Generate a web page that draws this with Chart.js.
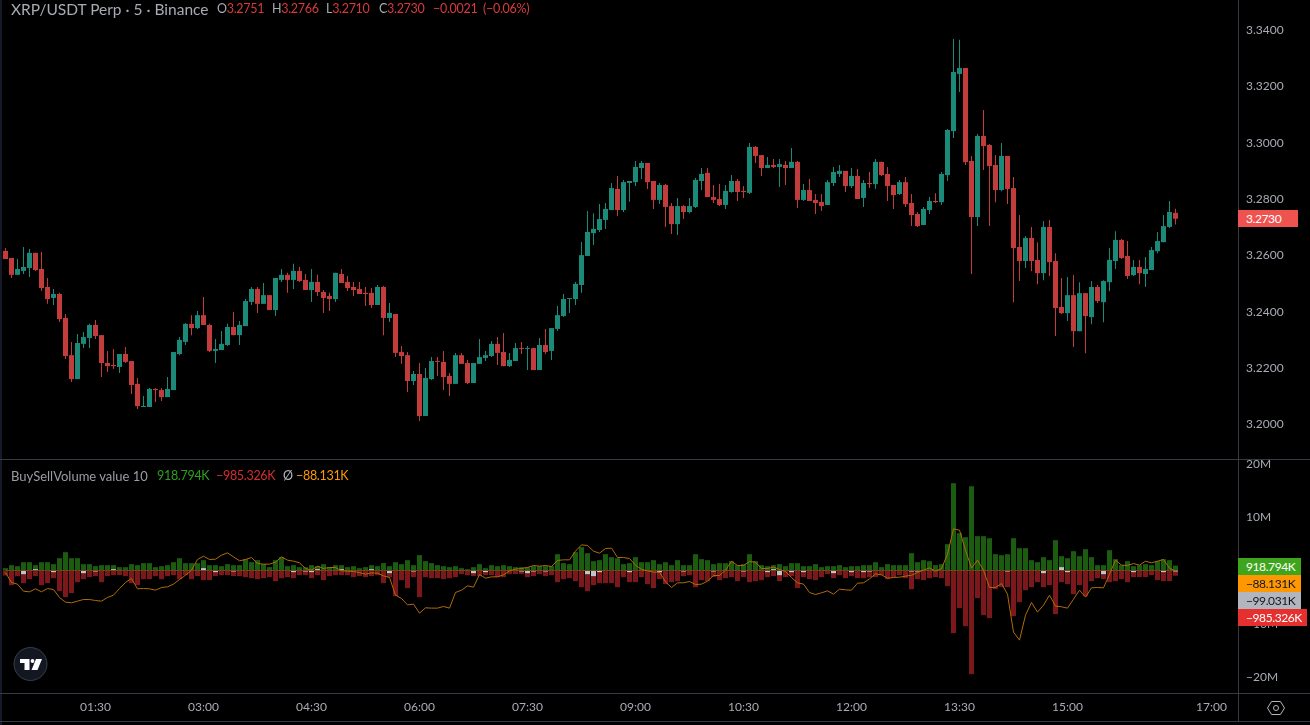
<!DOCTYPE html>
<html>
<head>
<meta charset="utf-8">
<title>XRP/USDT Perp</title>
<script src="https://cdn.jsdelivr.net/npm/chart.js@4"></script>
<style>
  html, body { margin: 0; background: #000; overflow: hidden; }
  body { width: 1310px; height: 725px; position: relative; font-family: Lato, sans-serif; }
  canvas { position: absolute; left: 0; }
  #price-chart { top: 0; }
  #volume-chart { top: 460px; }
  .rule { position: absolute; background: #363a45; }
  .txt { position: absolute; white-space: nowrap; line-height: 16px; font-size: 12.5px; letter-spacing: -0.3px; }
  .tag { position: absolute; left: 1238px; height: 17px; line-height: 17px; padding-left: 8px; font-size: 12px; letter-spacing: -0.4px; box-sizing: border-box; }
</style>
</head>
<body>
<canvas id="price-chart" width="1310" height="459"></canvas>
<canvas id="volume-chart" width="1310" height="265"></canvas>

<div class="rule" style="left:0;top:0;width:2px;height:725px;background:#161a28"></div>
<div class="rule" style="left:0;top:459px;width:1310px;height:1px"></div>
<div class="rule" style="left:0;top:693px;width:1310px;height:1px"></div>
<div class="rule" style="left:0;top:721px;width:1310px;height:1px"></div>
<div class="rule" style="left:1238px;top:0;width:1px;height:721px"></div>

<div class="txt" style="left:11px;top:1px;font-size:15.5px;letter-spacing:0;color:#a8abb4">XRP/USDT Perp · 5 · Binance</div>
<div class="txt" style="left:217px;top:1px;color:#a8abb4">O<span style="color:#d83a3a">3.2751</span></div>
<div class="txt" style="left:272px;top:1px;color:#a8abb4">H<span style="color:#d83a3a">3.2766</span></div>
<div class="txt" style="left:326px;top:1px;color:#a8abb4">L<span style="color:#d83a3a">3.2710</span></div>
<div class="txt" style="left:379px;top:1px;color:#a8abb4">C<span style="color:#d83a3a">3.2730</span></div>
<div class="txt" style="left:433px;top:1px;color:#d83a3a">−0.0021</div>
<div class="txt" style="left:483px;top:1px;color:#d83a3a">(−0.06%)</div>

<div class="txt" style="left:11px;top:468px;font-size:13px;letter-spacing:0;color:#9a9da6">BuySellVolume value 10</div>
<div class="txt" style="left:157px;top:468px;color:#2f9e1f">918.794K</div>
<div class="txt" style="left:216px;top:468px;color:#d32f2f">−985.326K</div>
<div class="txt" style="left:283px;top:468px;color:#b2b5be">Ø</div>
<div class="txt" style="left:296px;top:468px;color:#ff9800">−88.131K</div>

<div class="tag" style="top:210px;width:60px;background:#ef5350;color:#fff">3.2730</div>
<div class="tag" style="top:558px;width:63px;background:#3fa51c;color:#fff">918.794K</div>
<div class="tag" style="top:575px;width:63px;background:#ff9800;color:#131722">−88.131K</div>
<div class="tag" style="top:592px;width:63px;background:#b2b5be;color:#131722">−99.031K</div>
<div class="tag" style="top:609px;width:69px;background:#e53030;color:#fff">−985.326K</div>

<svg style="position:absolute;left:12px;top:646px" width="38" height="38">
  <circle cx="18.5" cy="18" r="16.5" fill="#131722" stroke="#3a3e48"/>
  <path d="M8 13h9.5v11h-5v-7H8z M24 13h6l-4.5 11h-6z" fill="#fff"/>
  <circle cx="20.5" cy="15" r="1.9" fill="#fff"/>
</svg>
<svg style="position:absolute;left:1266px;top:698px" width="20" height="20">
  <polygon points="1.5,10 5.5,3.5 14.5,3.5 18.5,10 14.5,16.5 5.5,16.5" fill="none" stroke="#b2b5be"/>
  <circle cx="10" cy="10" r="2.5" fill="none" stroke="#b2b5be"/>
</svg>

<script>
'use strict'

//candle values
let opens = [
  3.2616,3.2591,3.2531,3.2545,3.2555,3.2609,3.2552,3.2488,3.2449,3.2463,
  3.2378,3.2246,3.2161,3.2286,3.2307,3.2353,3.2317,3.2218,3.2211,3.2204,
  3.2250,3.2225,3.2144,3.2062,3.2062,3.2126,3.2122,3.2097,3.2122,3.2250,
  3.2293,3.2357,3.2342,3.2388,3.2353,3.2261,3.2264,3.2282,3.2346,3.2317,
  3.2349,3.2435,3.2481,3.2428,3.2459,3.2406,3.2513,3.2531,3.2513,3.2545,
  3.2513,3.2477,3.2506,3.2470,3.2456,3.2445,3.2534,3.2506,3.2488,3.2481,
  3.2467,3.2467,3.2424,3.2488,3.2378,3.2392,3.2257,3.2246,3.2154,3.2179,
  3.2030,3.2161,3.2225,3.2222,3.2172,3.2144,3.2246,3.2218,3.2147,3.2215,
  3.2236,3.2243,3.2286,3.2257,3.2207,3.2225,3.2271,3.2268,3.2271,3.2193,
  3.2282,3.2261,3.2339,3.2385,3.2445,3.2445,3.2495,3.2598,3.2679,3.2690,
  3.2726,3.2761,3.2836,3.2761,3.2857,3.2860,3.2910,3.2928,3.2864,3.2797,
  3.2850,3.2775,3.2711,3.2775,3.2754,3.2772,3.2864,3.2893,3.2807,3.2800,
  3.2779,3.2825,3.2864,3.2829,3.2822,3.2985,3.2956,3.2910,3.2921,3.2914,
  3.2921,3.2910,3.2932,3.2797,3.2832,3.2797,3.2790,3.2779,3.2857,3.2889,
  3.2900,3.2846,3.2882,3.2804,3.2857,3.2853,3.2932,3.2889,3.2850,3.2818,
  3.2860,3.2786,3.2747,3.2708,3.2761,3.2793,3.2789,3.2885,3.3041,3.3244,
  3.3265,3.2935,3.2736,3.3024,3.2992,3.2921,3.2832,3.2953,3.2839,3.2630,
  3.2580,3.2662,3.2584,3.2537,3.2701,3.2580,3.2417,3.2395,3.2459,3.2331,
  3.2466,3.2381,3.2488,3.2434,3.2505,3.2580,3.2655,3.2598,3.2530,3.2559,
  3.2534,3.2548,3.2615,3.2647,3.2701,3.2751
];
let closes = [
  3.2587,3.2531,3.2552,3.2559,3.2609,3.2548,3.2484,3.2445,3.2463,3.2374,
  3.2243,3.2161,3.2289,3.2310,3.2353,3.2314,3.2218,3.2207,3.2207,3.2250,
  3.2222,3.2140,3.2065,3.2065,3.2126,3.2122,3.2097,3.2126,3.2257,3.2300,
  3.2357,3.2342,3.2388,3.2353,3.2261,3.2268,3.2286,3.2346,3.2317,3.2353,
  3.2438,3.2481,3.2428,3.2459,3.2406,3.2520,3.2531,3.2513,3.2545,3.2509,
  3.2477,3.2506,3.2470,3.2449,3.2445,3.2538,3.2502,3.2484,3.2477,3.2463,
  3.2463,3.2424,3.2488,3.2378,3.2396,3.2254,3.2243,3.2154,3.2179,3.2030,
  3.2165,3.2225,3.2222,3.2168,3.2144,3.2246,3.2215,3.2147,3.2218,3.2239,
  3.2246,3.2286,3.2254,3.2207,3.2229,3.2271,3.2268,3.2271,3.2193,3.2282,
  3.2257,3.2342,3.2388,3.2445,3.2448,3.2499,3.2601,3.2683,3.2694,3.2729,
  3.2765,3.2839,3.2761,3.2860,3.2864,3.2914,3.2928,3.2860,3.2797,3.2850,
  3.2772,3.2711,3.2775,3.2754,3.2775,3.2868,3.2889,3.2807,3.2797,3.2779,
  3.2829,3.2864,3.2825,3.2825,3.2985,3.2953,3.2910,3.2921,3.2914,3.2924,
  3.2910,3.2932,3.2797,3.2832,3.2793,3.2786,3.2775,3.2860,3.2896,3.2900,
  3.2846,3.2882,3.2800,3.2857,3.2853,3.2932,3.2885,3.2846,3.2814,3.2860,
  3.2782,3.2743,3.2704,3.2765,3.2793,3.2789,3.2889,3.3045,3.3251,3.3265,
  3.2931,3.2736,3.3024,3.2988,3.2917,3.2832,3.2953,3.2836,3.2626,3.2580,
  3.2662,3.2580,3.2537,3.2701,3.2576,3.2413,3.2395,3.2459,3.2331,3.2466,
  3.2385,3.2488,3.2438,3.2509,3.2584,3.2655,3.2591,3.2527,3.2559,3.2537,
  3.2552,3.2619,3.2651,3.2704,3.2754,3.2730
];
let highs = [
  3.2626,3.2591,3.2587,3.2630,3.2623,3.2609,3.2612,3.2520,3.2481,3.2467,
  3.2392,3.2293,3.2321,3.2328,3.2357,3.2371,3.2317,3.2261,3.2268,3.2250,
  3.2275,3.2225,3.2165,3.2101,3.2129,3.2129,3.2129,3.2168,3.2257,3.2310,
  3.2360,3.2388,3.2403,3.2452,3.2357,3.2303,3.2332,3.2357,3.2399,3.2367,
  3.2445,3.2488,3.2488,3.2502,3.2459,3.2520,3.2552,3.2538,3.2570,3.2559,
  3.2534,3.2552,3.2531,3.2477,3.2467,3.2538,3.2552,3.2527,3.2506,3.2506,
  3.2488,3.2484,3.2495,3.2491,3.2431,3.2392,3.2278,3.2257,3.2190,3.2218,
  3.2200,3.2239,3.2239,3.2261,3.2183,3.2254,3.2254,3.2229,3.2218,3.2303,
  3.2261,3.2296,3.2310,3.2325,3.2254,3.2289,3.2293,3.2278,3.2271,3.2307,
  3.2339,3.2342,3.2420,3.2463,3.2448,3.2506,3.2648,3.2758,3.2750,3.2782,
  3.2786,3.2857,3.2882,3.2868,3.2864,3.2935,3.2935,3.2928,3.2864,3.2857,
  3.2853,3.2786,3.2804,3.2779,3.2804,3.2875,3.2910,3.2910,3.2850,3.2853,
  3.2850,3.2885,3.2871,3.2846,3.2999,3.2988,3.2956,3.2949,3.2942,3.2942,
  3.2935,3.2981,3.2935,3.2853,3.2871,3.2818,3.2818,3.2868,3.2914,3.2921,
  3.2900,3.2910,3.2907,3.2868,3.2896,3.2942,3.2932,3.2914,3.2850,3.2868,
  3.2878,3.2818,3.2754,3.2772,3.2807,3.2821,3.2896,3.3049,3.3368,3.3365,
  3.3265,3.2953,3.3031,3.3116,3.2995,3.2956,3.2999,3.2953,3.2878,3.2743,
  3.2669,3.2701,3.2647,3.2722,3.2726,3.2608,3.2520,3.2523,3.2530,3.2505,
  3.2466,3.2509,3.2495,3.2512,3.2626,3.2686,3.2658,3.2651,3.2584,3.2584,
  3.2594,3.2630,3.2683,3.2743,3.2793,3.2766
];
let lows = [
  3.2587,3.2520,3.2531,3.2534,3.2523,3.2545,3.2474,3.2428,3.2424,3.2364,
  3.2232,3.2151,3.2161,3.2271,3.2271,3.2303,3.2168,3.2186,3.2197,3.2183,
  3.2218,3.2108,3.2055,3.2062,3.2062,3.2080,3.2083,3.2097,3.2122,3.2246,
  3.2282,3.2317,3.2339,3.2353,3.2257,3.2218,3.2264,3.2278,3.2317,3.2282,
  3.2349,3.2424,3.2396,3.2428,3.2406,3.2385,3.2506,3.2467,3.2481,3.2506,
  3.2477,3.2435,3.2456,3.2396,3.2403,3.2435,3.2502,3.2474,3.2456,3.2463,
  3.2420,3.2413,3.2424,3.2317,3.2364,3.2239,3.2215,3.2115,3.2140,3.2012,
  3.2030,3.2158,3.2172,3.2122,3.2101,3.2144,3.2215,3.2144,3.2147,3.2215,
  3.2225,3.2239,3.2211,3.2207,3.2204,3.2225,3.2250,3.2193,3.2193,3.2193,
  3.2250,3.2229,3.2332,3.2381,3.2396,3.2424,3.2467,3.2598,3.2637,3.2683,
  3.2694,3.2761,3.2740,3.2754,3.2790,3.2846,3.2871,3.2836,3.2765,3.2782,
  3.2701,3.2676,3.2672,3.2729,3.2750,3.2768,3.2832,3.2807,3.2786,3.2775,
  3.2765,3.2822,3.2793,3.2804,3.2818,3.2928,3.2882,3.2910,3.2910,3.2843,
  3.2850,3.2910,3.2768,3.2793,3.2793,3.2747,3.2758,3.2779,3.2846,3.2878,
  3.2825,3.2839,3.2800,3.2772,3.2839,3.2836,3.2882,3.2793,3.2765,3.2814,
  3.2772,3.2704,3.2701,3.2708,3.2747,3.2786,3.2779,3.2864,3.3017,3.3180,
  3.2921,3.2534,3.2704,3.2903,3.2704,3.2789,3.2828,3.2782,3.2434,3.2509,
  3.2555,3.2544,3.2498,3.2512,3.2527,3.2314,3.2392,3.2367,3.2275,3.2331,
  3.2253,3.2356,3.2431,3.2363,3.2473,3.2552,3.2587,3.2516,3.2527,3.2498,
  3.2488,3.2548,3.2608,3.2647,3.2697,3.2710
];

//volume values, in millions
let buyVolume = [
  .44,1.0,.81,1.56,1.56,1.0,1.56,1.56,1.19,2.31,
  3.44,2.31,2.31,1.19,1.19,.81,1.0,1.0,1.0,.63,
  .63,1.19,1.0,1.38,1.38,.63,.81,1.0,1.56,2.31,
  1.38,1.38,1.38,1.94,1.0,1.0,.81,1.19,1.0,1.0,
  2.13,1.56,1.94,1.19,.63,1.94,2.5,.81,1.0,.63,
  .63,1.0,.81,1.19,.63,1.0,1.0,.63,.81,.44,
  .63,1.0,.81,1.38,.81,1.56,1.19,1.94,1.0,2.88,
  1.75,1.38,1.0,.81,.63,.81,.44,.25,.63,1.19,
  .44,1.0,.81,1.0,.81,.63,.63,.63,.81,.81,
  .81,.81,3.06,1.38,1.19,3.44,4.38,3.25,1.75,1.94,
  3.06,2.5,2.31,1.19,1.38,2.5,1.56,1.56,1.94,1.19,
  1.56,1.0,1.94,1.0,1.0,3.06,2.13,1.94,1.19,1.38,
  1.38,1.75,1.0,1.19,3.06,1.75,1.0,.81,1.0,1.19,
  .81,1.38,1.38,.81,.81,1.19,.63,.81,.81,1.0,
  .63,.81,.81,1.0,1.0,1.56,.63,1.19,1.0,1.0,
  1.0,3.25,1.56,1.94,1.75,1.0,1.19,4.94,16.38,7.0,
  6.25,15.81,6.44,6.44,6.06,3.06,2.88,3.06,6.06,4.19,
  4.19,1.94,1.56,2.5,1.94,5.69,2.69,2.31,3.63,2.69,
  4.0,2.5,1.0,1.0,3.81,2.13,1.0,1.75,.81,1.0,
  1.19,1.0,1.75,2.13,1.94,.919
];
let sellVolume = [
  -.94,-2.75,-1.06,-2.38,-1.63,-1.06,-2.75,-2.38,-1.44,-3.88,
  -5.0,-4.25,-2.19,-1.63,-1.25,-1.06,-2.19,-1.06,-.88,-.88,
  -1.06,-2.38,-2.75,-1.63,-1.63,-1.06,-1.63,-1.06,-.88,-1.63,
  -.88,-1.63,-1.06,-1.81,-1.81,-1.06,-.88,-.88,-1.06,-1.06,
  -1.25,-1.44,-1.63,-1.44,-1.25,-2.0,-1.44,-1.25,-1.44,-.88,
  -.88,-1.44,-.88,-1.81,-1.06,-.88,-.88,-.88,-1.25,-1.06,
  -1.25,-1.06,-.88,-2.38,-1.25,-4.81,-1.81,-3.31,-1.25,-5.0,
  -1.25,-1.44,-1.44,-1.63,-1.44,-1.25,-.69,-.88,-1.06,-1.06,
  -.88,-.88,-1.25,-1.25,-.69,-.69,-.69,-1.25,-1.06,-.69,
  -1.06,-.88,-2.19,-1.63,-1.44,-2.0,-3.13,-3.88,-2.75,-2.38,
  -2.38,-2.38,-3.13,-1.25,-2.19,-2.19,-1.25,-2.56,-3.31,-1.63,
  -2.56,-2.19,-2.0,-1.06,-.88,-3.13,-1.81,-2.0,-1.25,-1.81,
  -1.44,-1.25,-2.0,-1.25,-2.19,-2.0,-1.81,-1.25,-1.06,-2.0,
  -1.25,-1.06,-3.31,-1.25,-1.63,-1.81,-1.25,-.69,-1.44,-.88,
  -1.44,-1.06,-1.44,-1.44,-1.25,-1.25,-.88,-1.63,-1.25,-.88,
  -1.44,-3.5,-1.63,-1.81,-1.44,-1.25,-1.44,-2.94,-11.75,-7.06,
  -10.44,-19.44,-5.19,-8.38,-8.94,-3.5,-3.13,-3.13,-8.56,-5.94,
  -3.69,-3.13,-2.19,-3.13,-2.75,-8.19,-2.19,-2.56,-4.44,-2.75,
  -4.81,-2.0,-1.44,-1.63,-2.19,-2.0,-1.63,-2.19,-1.25,-1.25,
  -1.25,-.88,-1.81,-2.0,-2.0,-.985
];
let cumLine = [
  -.38,-2.25,-2.56,-3.88,-4.0,-3.44,-4.0,-3.38,-3.56,-5.06,
  -5.94,-6.06,-5.75,-5.44,-5.44,-5.63,-5.75,-5.06,-4.63,-3.38,
  -2.25,-1.5,-3.44,-3.38,-3.44,-3.69,-3.19,-3.06,-2.56,-1.69,
  -.88,.06,2.06,2.69,2.06,2.13,2.88,3.31,2.56,1.81,
  2.06,2.44,1.31,1.19,1.19,1.56,2.56,1.94,1.75,1.44,
  .38,.06,.81,.38,.56,.56,-.06,-.13,-.19,-.38,
  -.69,-.44,-.5,-1.0,-1.31,-4.63,-5.25,-6.44,-6.31,-8.0,
  -7.0,-7.06,-7.06,-6.75,-7.06,-4.13,-3.69,-2.88,-3.13,-.75,
  -1.44,-1.19,-1.19,-.81,-.06,.25,.38,.56,.94,.81,
  .94,.75,1.88,2.0,2.0,3.63,4.81,4.69,3.63,3.25,
  4.13,4.19,2.44,2.44,2.25,1.0,.19,-.06,-.31,-.31,
  -2.13,-3.19,-2.31,-2.31,-2.06,-2.63,-2.56,-2.0,-.94,-.94,
  .06,1.75,.94,.94,1.69,1.56,.38,.38,.63,.19,
  -.19,-1.31,-2.31,-2.56,-4.13,-4.5,-4.19,-3.81,-4.44,-3.5,
  -3.63,-3.69,-2.38,-2.31,-1.56,-.63,-.81,-1.44,-1.31,-1.25,
  -1.06,-.88,-.38,.06,.5,-.13,.38,3.06,7.81,7.56,
  3.81,.44,1.94,.06,-3.19,-3.19,-2.44,-4.44,-11.56,-13.06,
  -8.38,-6.0,-7.81,-6.5,-4.63,-6.69,-6.81,-7.06,-5.38,-3.69,
  -5.0,-3.25,-3.19,-3.25,-.69,1.94,1.0,.94,1.31,1.0,
  1.75,1.44,1.75,2.06,.44,-.088
];
//bars where the net block shows on the zero line: which bar, and its value
let netBars = [3,5,8,13,15,18,33,35,38,48,50,51,52,56,61,64,68,78,80,86,87,88,90,97,98,99,104,109,113,118,123,127,128,129,131,133,138,141,143,144,151,152,167,173,176,177,183,188,193,195];
let netValues = [-.69,.25,-.31,-.5,-.12,.25,.44,-.31,-.12,-.31,-.19,-.31,.25,.25,.25,-.5,-.12,-.5,-.31,-.12,-.5,-.12,-.12,-.69,-1.06,-.31,-.31,-.31,-.12,-.12,-.12,-.31,.25,-.88,-.31,-.31,-.5,-.31,-.31,-.12,-.12,-.12,-.12,-.5,.63,-.31,-.69,-.31,-.31,-.099];

//tick labels
let timeTicks = [90,180,270,360,450,540,630,720,810,900,1020];
let timeLabels = ['01:30','03:00','04:30','06:00','07:30','09:00','10:30','12:00','13:30','15:00','17:00'];
let priceTicks = [3.20,3.22,3.24,3.26,3.28,3.30,3.32,3.34];
let volumeTicks = [20,10,0,-10,-20];
let volumeLabels = ['20M','10M','','−10M','−20M'];

//a bar every 5 minutes, first one at 00:15
let firstBar = 15;
let barStep = 5;
let barTimes = opens.map((o, i) => firstBar + i * barStep);

const FONT = 'Lato, sans-serif';
const UP = '#1b8a78';
const DOWN = '#c23c3c';
const LABEL = '#a8abb4';

let candleColors = opens.map((o, i) => closes[i] >= o ? UP : DOWN);

function floatBars(a, b){
  return barTimes.map((t, i) => ({x: t, y: [a[i], b[i]]}));
}

function points(values){
  return barTimes.map((t, i) => ({x: t, y: values[i]}));
}

//both panes share the same time scale, 6px a bar with no gaps at the sides
const xRange = {min: 10.41667, max: 10.41667 + 1238 * 5 / 6};

function noPadding(scale, size){
  scale.paddingTop = 0;
  scale.paddingBottom = 0;
  scale.paddingLeft = 0;
  scale.paddingRight = 0;
  if(scale.isHorizontal()){
    scale.height = size;
  } else {
    scale.width = size;
  }
}

function xAxis(show){
  return {
    type: 'linear',
    display: show,
    min: xRange.min,
    max: xRange.max,
    offset: false,
    grid: {display: false, drawTicks: false},
    border: {display: false},
    afterBuildTicks: (scale) => { scale.ticks = timeTicks.map((v) => ({value: v})); },
    afterFit: (scale) => noPadding(scale, show ? 32 : 0),
    ticks: {
      autoSkip: false,
      maxRotation: 0,
      padding: 7,
      color: LABEL,
      font: {family: FONT, size: 12},
      callback: (v) => timeLabels[timeTicks.indexOf(v)]
    }
  };
}

//inflateAmount 0 keeps the bars on whole pixels, 'auto' smears them
function baseOptions(x, y){
  return {
    responsive: false,
    animation: false,
    events: [],
    layout: {padding: 0},
    datasets: {bar: {inflateAmount: 0, grouped: false}},
    plugins: {legend: {display: false}, tooltip: {enabled: false}},
    scales: {x: x, y: y}
  };
}

//price pane
new Chart(document.getElementById('price-chart').getContext('2d'), {
  type: 'bar',
  data: {
    datasets: [
      {
        data: floatBars(opens, closes),
        backgroundColor: candleColors,
        barThickness: 5,
        minBarLength: 1,
        order: 1
      },
      {
        data: floatBars(lows, highs),
        backgroundColor: candleColors,
        barThickness: 1,
        order: 2
      }
    ]
  },
  options: baseOptions(xAxis(false), {
    position: 'right',
    min: 3.34 - 429 / 2817.5,
    max: 3.34 + 30 / 2817.5,
    grid: {display: false, drawTicks: false},
    border: {display: false},
    afterBuildTicks: (scale) => { scale.ticks = priceTicks.map((v) => ({value: v})); },
    afterFit: (scale) => noPadding(scale, 72),
    ticks: {
      autoSkip: false,
      padding: 8,
      color: LABEL,
      font: {family: FONT, size: 12},
      callback: (v) => v.toFixed(4)
    }
  })
});

//volume pane
new Chart(document.getElementById('volume-chart').getContext('2d'), {
  type: 'bar',
  data: {
    datasets: [
      {
        type: 'line',
        data: points(cumLine),
        borderColor: '#b06c08',
        borderWidth: 1,
        pointRadius: 0,
        tension: 0,
        order: 1
      },
      {
        type: 'line',
        data: points(opens.map(() => 0)),
        borderColor: '#6d4a12',
        borderWidth: 1,
        pointRadius: 0,
        order: 2
      },
      {
        data: netBars.map((b, i) => ({x: barTimes[b], y: netValues[i]})),
        backgroundColor: '#c0c3cb',
        barThickness: 5,
        minBarLength: 1,
        order: 3
      },
      {
        data: points(buyVolume),
        backgroundColor: '#1b5c10',
        barThickness: 5,
        order: 4
      },
      {
        data: points(sellVolume),
        backgroundColor: '#7a181b',
        barThickness: 5,
        order: 5
      }
    ]
  },
  options: baseOptions(xAxis(true), {
    position: 'right',
    min: (570.5 - 693) / 5.33,
    max: (570.5 - 460) / 5.33,
    grid: {display: false, drawTicks: false},
    border: {display: false},
    afterBuildTicks: (scale) => { scale.ticks = volumeTicks.map((v) => ({value: v})); },
    afterFit: (scale) => noPadding(scale, 72),
    ticks: {
      autoSkip: false,
      padding: 8,
      color: LABEL,
      font: {family: FONT, size: 12},
      callback: (v) => volumeLabels[volumeTicks.indexOf(v)]
    }
  })
});
</script>
</body>
</html>
